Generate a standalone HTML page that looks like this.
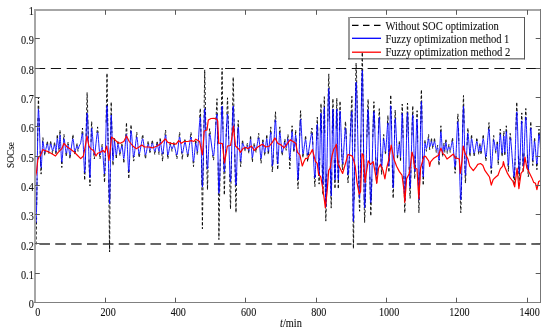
<!DOCTYPE html><html><head><meta charset="utf-8"><style>html,body{margin:0;padding:0;background:#fff;overflow:hidden}svg{display:block}</style></head><body><svg width="550" height="333" viewBox="0 0 550 333">
<rect width="550" height="333" fill="#fff"/>
<line x1="35.0" y1="68.5" x2="540.5" y2="68.5" stroke="#111" stroke-width="1.1" stroke-dasharray="10.2 5.64"/>
<line x1="35.0" y1="244" x2="540.5" y2="244" stroke="#333" stroke-width="1.3" stroke-dasharray="10.6 5.27" stroke-dashoffset="11.5"/>
<path d="M36.1,244.5 36.2,237.9 36.4,228.8 36.6,217.7M36.7,205.1 36.9,191.8 37.1,178.4M37.6,141.1 37.8,129 37.9,118M38.1,108.7 38.3,101.6 38.4,97.3 38.6,100.8 38.7,105.7 38.9,111.5M39.1,118.1 39.3,125 39.5,132M40.2,151.2 40.4,157.5 40.6,163.2M40.6,163.2 40.8,168.1 40.9,171.8 41.1,174.1 41.2,172.3 41.3,169.9 41.5,167M42.5,143.2 42.7,140.8 42.8,138.9 42.9,137.7 43,138.7 43.1,140 43.3,141.3M44.3,152.3 44.5,153.6 44.6,154.7 44.7,155.7 44.9,154.8 45,153.7 45.2,152.6 45.4,151.4M46.7,145.1 46.9,143.9 47.1,142.8 47.2,141.8 47.4,140.9 47.5,141.8 47.6,142.7 47.7,143.7 47.8,144.7M48.6,150.9 48.7,151.8 48.8,152.7 48.9,153.5 49,152.7 49.1,151.8 49.3,150.9M50.2,144.5 50.3,143.4 50.5,142.4 50.6,141.4 50.7,140.6 50.8,141.4 50.9,142.4 51.1,143.4 51.2,144.5M52.1,150.9 52.3,151.8 52.4,152.7 52.5,153.5 52.6,152.7 52.8,151.9 52.9,151 53.1,150.1M54,145.5 54.2,144.6 54.3,143.7 54.5,142.8 54.6,142 54.7,142.8 54.8,143.7 54.9,144.7 55,145.7M55.6,150.9 55.7,151.9 55.8,152.8 55.9,153.8 56,154.6 56.1,153.7 56.2,152.5 56.3,151.1M57,138.6 57.1,137.1 57.2,135.6 57.3,134.5 57.4,135.6 57.5,136.9 57.7,138.3 57.8,139.8M58.7,148.5 58.9,149.6 59,150.6 59.1,151.3 59.2,150.5 59.2,149.4 59.3,148.1M59.8,134.9 59.9,133.1 59.9,131.5 60,130.1 60.1,131.7 60.2,133.8 60.4,136.5M61.4,161 61.6,163.7 61.7,165.9 61.8,167.5 61.9,166 62.1,163.9 62.2,161.5M63.6,139.9 63.7,137.6 63.9,135.8 64,134.5 64.1,135.7 64.3,137.2 64.5,138.9M65.8,152.8 66,154.4 66.2,155.7 66.3,156.7 66.4,155.8 66.5,154.7 66.7,153.6 66.8,152.4M67.7,144.9 67.9,143.8 68,142.8 68.1,142 68.2,142.9 68.3,143.9 68.5,145.1M69.5,155.3 69.7,156.7 69.8,157.9 69.9,158.9 70.1,157.8 70.3,156.3 70.5,154.6M72.4,139.1 72.6,137.3 72.8,135.7 73,134.5 73.1,135.6 73.2,137.1 73.4,138.6M74.4,151.1 74.6,152.5 74.7,153.7 74.8,154.6 74.9,153.8 75.1,152.9 75.3,152 75.4,151M76.5,146.4 76.6,145.5 76.8,144.7 77,143.8 77.1,143.1 77.2,143.8 77.2,144.5 77.3,145.2 77.3,145.9M77.8,148.7 77.8,149.4 77.9,150 77.9,150.7 78,151.3 78.1,150.7 78.3,149.9 78.4,149.2 78.6,148.4M81.9,134.3 82,132.6 82.2,130.9 82.4,129.4 82.5,128 82.6,129.8 82.8,132.5 82.9,136M84.3,171 84.4,174.8 84.6,178 84.7,180.3 84.8,177.7 85,173.7 85.2,168.6 85.4,162.6 85.5,156.1M86.1,136.3 86.3,128.5 86.4,120.3M86.4,120.3 86.6,112.3 86.8,104.8 87,98.1 87.1,92.5 87.3,98.1 87.5,105 87.7,112.9 87.9,121.3M87.9,121.3 88.1,129.9 88.3,138.2M89,159.6 89.2,166.7 89.4,173.2 89.6,178.8 89.8,183.2 90,186 90.1,183.4 90.2,179.6 90.3,174.9M91,141.9 91.2,136.4 91.3,131.4M91.3,131.4 91.4,127.1 91.5,123.7 91.6,121.5 91.8,123.4 91.9,125.8 92.1,128.7M93.8,153.3 94,155.7 94.1,157.6 94.3,158.9 94.5,157.7 94.7,156 95,153.8M96.9,133 97.2,130.6 97.4,128.5 97.6,126.9 97.7,128.5 97.9,130.6 98.1,133M99.5,153.8 99.7,156 99.9,157.7 100,158.9 100.1,157.9 100.3,156.8 100.4,155.5 100.6,154.3M101.8,146.9 101.9,145.9 102.1,145 102.2,144.3 102.3,145.3 102.5,147M104,174 104.2,177.3 104.4,180.2 104.5,182.5 104.7,179.6 104.8,175 105,169.2 105.2,162.3 105.4,154.9M106.1,122.6 106.3,112.1 106.5,101.4 106.7,91.2 106.8,81.6 107,73.2 107.2,82.1 107.3,92.8 107.5,105 107.7,118M107.7,118 107.9,131.2 108.1,143.9M108.7,179.7 108.9,194.9 109.1,210.4 109.3,225.5 109.4,239.5 109.6,252 109.7,239.7 109.8,226 109.9,211.5 110,196.8M110,196.8 110.2,182.4 110.3,169.3M110.6,139.6 110.8,129.7 110.9,120.5M110.9,120.5 111,112.6 111.1,106.3 111.2,102 111.3,105.6 111.4,110.2 111.6,115.4M111.7,121.2 111.8,127 112,132.8M112.4,147.7 112.5,152.6 112.6,157M112.8,160.8 112.9,163.7 113,165.5 113.1,164.1 113.2,162.3 113.3,160.2M114.2,142.3 114.3,140.4 114.4,138.8 114.5,137.7 114.6,138.8 114.7,140.1 114.9,141.7M115.9,154.9 116.1,156.5 116.2,157.8 116.3,158.9 116.4,157.9 116.5,156.6 116.6,155.2M117.7,144.2 117.8,143 117.9,141.8 118,140.9 118.1,141.8 118.2,142.8 118.4,143.9M119.5,152.6 119.7,153.7 119.8,154.8 119.9,155.7 120,154.8 120.2,153.8 120.3,152.8 120.5,151.8M121.4,146.6 121.6,145.6 121.7,144.7 121.9,143.9 122,143.1 122.1,143.9 122.2,145.1 122.4,146.4M123.4,158.9 123.6,160.5 123.7,162 123.8,163.2 124,161.8 124.1,159.9 124.3,157.5M125.8,136.6 126,132.8 126.2,129.1 126.3,125.6 126.5,122.5 126.6,125.8 126.8,129.8 127,134.3M128.3,170 128.5,173.6 128.7,176.6 128.8,178.8 128.9,176.6 129.1,173.4 129.2,169.5M130.6,133.3 130.7,129.6 130.9,126.7 131,124.7 131.2,126.5 131.3,128.8 131.5,131.5M133.2,155.3 133.4,157.8 133.5,159.7 133.7,161.1 133.9,159.8 134.1,158.1 134.3,156.1M136.2,137.6 136.4,135.4 136.6,133.7 136.8,132.3 136.9,133.6 137.1,135.3 137.3,137.2M138.6,153.4 138.8,155.1 139,156.6 139.1,157.7 139.3,156.6 139.6,155.2 139.8,153.6M142,138.9 142.2,137.2 142.5,135.7 142.7,134.5 142.9,135.7 143.1,137.3 143.3,139.1M144.9,154.6 145.1,156.3 145.3,157.8 145.5,158.9 145.7,157.9 145.8,156.6 146,155.2 146.2,153.7M147.7,144.2 147.9,143 148,141.8 148.2,140.9 148.3,141.8 148.4,142.7 148.6,143.7 148.7,144.7M149.5,149.9 149.6,150.9 149.8,151.8 149.9,152.7 150,153.5 150.1,152.7 150.3,151.8 150.5,150.8M151.7,144 151.8,142.8 152,141.8 152.2,140.8 152.3,139.9 152.5,140.8 152.6,141.8 152.8,143 153,144.1M154.3,151.6 154.5,152.7 154.6,153.7 154.8,154.6 154.9,153.7 155.1,152.8 155.3,151.8 155.5,150.7M156.5,144.9 156.7,143.8 156.9,142.8 157.1,141.8 157.2,140.9 157.3,141.8 157.4,142.8 157.6,143.8 157.7,144.9M158.6,151.8 158.8,152.8 158.9,153.7 159,154.6 159.1,153.7 159.2,152.6 159.2,151.4M160,141.2 160,139.9 160.1,138.7 160.2,137.7 160.3,138.8 160.5,140.1 160.7,141.5M161.9,153.2 162,155.3 162.2,157.4 162.4,159.4 162.5,161.2 162.7,159.3 162.9,157.1 163.1,154.6 163.3,151.9M165,135.5 165.2,133.4 165.4,131.6 165.6,130.1 165.7,131.6 165.9,133.4 166.1,135.6M167.4,154.1 167.6,156.1 167.8,157.7 167.9,158.9 168,157.9 168.2,156.7 168.4,155.3 168.6,153.9M169.8,145.1 170,143.9 170.2,142.9 170.3,142 170.4,142.8 170.5,143.6 170.6,144.4 170.8,145.1M171.5,148.6 171.7,149.3 171.8,150 171.9,150.7 172,151.3 172.1,150.7 172.2,150 172.4,149.3 172.5,148.6M173.4,145.1 173.5,144.4 173.7,143.6 173.8,142.8 173.9,142 174.1,142.9 174.3,143.9 174.5,145.1M176.1,153.9 176.3,155.3 176.5,156.7 176.7,157.9 176.9,158.9 177.1,157.7 177.2,156.2 177.4,154.4M179.1,137.3 179.3,135.3 179.4,133.6 179.6,132.3 179.8,133.6 179.9,135.2 180.1,137.1M181.6,151.4 181.8,153.6 182,155.8 182.1,157.7 182.3,159.4 182.5,157.8 182.6,156.1 182.8,154.3 183,152.4M184.5,142.3 184.7,141 184.8,139.8 185,138.8 185.2,139.8 185.3,141 185.5,142.4M187.2,154.1 187.4,155.5 187.5,156.8 187.7,157.8 187.9,156.7 188.1,155.3 188.4,153.5M190.3,137.2 190.6,135.3 190.8,133.6 191,132.3 191.2,133.7 191.3,135.7 191.5,138.1M193,160.5 193.2,163 193.3,165 193.5,166.6 193.6,165.1 193.8,163.3 194,161.2M195.3,144.1 195.5,142.4 195.7,140.9 195.8,139.9 195.9,140.8 196,141.8 196.1,143M197,151.6 197.1,152.7 197.2,153.7 197.3,154.6 197.5,153.4 197.7,151.3M199.7,117.8 199.9,114 200.1,110.8 200.3,108.3 200.4,111.3 200.6,116 200.7,122 200.9,129 201,136.6M201.5,159.9 201.7,170.5 201.8,182.3M201.8,182.3 202,194.6 202.1,206.7 202.3,218.2 202.4,228.8 202.5,218.1 202.7,206.2 202.9,193.6 203,180.7M203,180.7 203.2,168.1 203.4,156.6M203.9,127.8 204.1,115.6 204.2,103.2 204.4,91.1 204.6,79.9 204.7,69.9 204.9,79.6 205.1,90.1 205.3,101.1 205.5,112M205.5,112 205.7,122.6 205.9,132M206.3,145.4 206.5,153.3 206.7,161.6M206.7,161.6 206.9,169.7 207.1,177.3 207.3,184.1 207.5,189.7 207.6,184.5 207.8,178.7 207.9,172.7 208.1,166.6M209.2,136.1 209.3,133 209.5,130.4 209.6,128.7 209.8,130.2 210.1,132.2 210.4,134.6M212.7,155 213,157.1 213.3,158.8 213.5,160.1 213.7,158.6 214,156M215.8,124.8 216,119 216.3,113.2 216.5,107.7 216.8,102.8 217,98.7 217.1,103.4 217.2,109.8 217.4,117.6M217.5,126.3 217.7,135.7 217.8,145.1M218.1,162.6 218.2,174.5 218.4,187.8 218.5,201.5 218.7,215 218.8,227.9 218.9,239.6 219.1,227.8 219.3,214.6 219.5,200.5 219.8,186.2M219.8,186.2 220,172.2 220.3,159.4M221.2,114.9 221.5,101.9 221.7,89.5 221.9,78 222.1,68.1 222.2,77.7 222.4,88.3 222.5,99.4 222.7,110.7 222.9,121.7 223,131.6M223.4,146.3 223.5,154.9 223.7,164 223.9,172.9 224,181.3 224.2,188.8 224.3,195 224.5,188.9 224.7,181.8 224.9,173.9 225.2,165.6M226.1,136.7 226.4,129.4 226.6,121.9M226.9,114.7 227.1,108.1 227.3,102.3 227.5,97.8 227.7,102.5 227.9,108.6 228.1,115.8M228.1,115.8 228.3,123.8 228.5,132.2 228.8,140.4M229.7,174.2 229.9,184 230.1,193.3 230.3,201.8 230.5,209 230.7,201.6 230.8,192.9 231,183.1 231.2,172.7 231.4,162.1 231.6,152.1M232.1,135.5 232.3,125.3 232.5,114.6 232.7,104 232.9,93.9 233,84.8 233.2,77.1 233.4,84.9 233.6,94.1 233.8,104.4 234,115.3 234.2,126.4 234.4,136.9M234.8,154.3 235,164.7 235.2,175.5 235.4,186.2 235.6,196.3 235.8,205.2 236,212.6 236.1,205.5 236.3,197.4 236.4,188.7 236.6,179.7 236.8,170.8M237.4,143.4 237.6,137.1 237.8,131.4M237.8,131.4 237.9,126.6 238.1,122.8 238.2,120.4 238.4,122.4 238.5,125.2 238.7,128.6M240.2,159.3 240.4,162.4 240.5,164.9 240.7,166.6 240.8,165.1 240.9,163.3 241.1,161.2M242.1,144.1 242.3,142.4 242.4,140.9 242.5,139.9 242.7,140.7 242.8,141.7 243,142.6 243.2,143.6M244.5,148.2 244.7,149.1 244.9,149.9 245,150.7 245.2,151.3 245.3,150.7 245.5,150 245.6,149.4 245.8,148.7M246.8,145.9 247,145.2 247.1,144.5 247.3,143.8 247.4,143.1 247.5,143.8 247.6,144.6 247.7,145.4 247.8,146.3M248.4,150.3 248.5,151.1 248.6,151.9 248.7,152.7 248.8,153.5 248.9,152.7 249,151.6 249.2,150.4M250.2,139.4 250.4,138 250.5,136.6 250.6,135.5 250.7,136.8 250.8,138.4 251,140.2M252,157.3 252.2,159.2 252.3,160.9 252.4,162.1 252.5,161 252.6,159.6 252.8,158M253.8,146.3 254,145 254.1,143.9 254.2,143.1 254.3,143.8 254.4,144.6 254.6,145.3 254.7,146.1M255.5,149.5 255.6,150.2 255.8,151 255.9,151.7 256,152.4 256.2,151.6 256.3,150.5 256.5,149.3M258,139.2 258.2,137.6 258.4,136 258.5,134.6 258.7,133.4 258.8,134.7 259,136.5 259.2,138.6M260.6,157.9 260.8,160.1 261,161.9 261.1,163.2 261.2,161.9 261.3,160.3 261.5,158.4M262.5,142.9 262.7,141.3 262.8,139.8 262.9,138.8 263,139.8 263.1,140.9 263.3,142.2M264.3,152.4 264.5,153.6 264.6,154.7 264.7,155.7 264.8,154.7 265,153.4 265.1,152M266.4,138.7 266.5,137.1 266.7,135.6 266.8,134.5 266.9,135.6 267,137.1 267.1,138.6M268,151.1 268.1,152.5 268.2,153.7 268.3,154.6 268.5,153.6 268.6,152.1 268.8,150.4M270.3,132.6 270.5,130.4 270.6,128.5 270.8,126.9 270.9,128.7 271,131.2 271.1,134.3M272,164.3 272.1,167.5 272.2,170.1 272.3,172 272.5,169.9 272.7,166.8 272.9,162.8M272.9,162.8 273.2,158.1 273.4,153.1M274.9,122.3 275.1,117.9 275.3,114.3 275.5,111.8 275.6,114.3 275.8,117.8 275.9,122M276.9,151.7 277.1,156.5 277.3,161M277.3,161 277.4,164.8 277.6,167.8 277.7,169.7 277.8,167.9 278,165.5 278.1,162.4M279.4,134.1 279.5,131.1 279.7,128.6 279.8,126.9 279.9,128.5 280.1,130.4 280.3,132.7M281.7,151.2 281.9,153.1 282.1,154.6 282.2,155.7 282.4,154.7 282.5,153.6 282.7,152.4M284.2,143.6 284.4,142.2 284.6,140.9 284.7,139.8 284.9,138.8 285,139.7 285.1,140.7 285.2,141.7 285.3,142.7M285.9,148.1 286,148.9 286.1,149.7 286.2,150.3 286.3,149.6 286.4,148.7 286.6,147.7M287.5,139.6 287.6,138.2 287.8,136.9 287.9,135.6 288,134.5 288.1,135.7 288.2,137.4 288.4,139.5M289.3,157 289.4,160.2 289.6,163.4 289.7,166.3 289.8,169 289.9,166.2 290.1,163 290.3,159.4 290.4,155.5M291.6,132.6 291.8,129.8 292,127.5 292.1,125.8 292.2,127.4 292.3,129.3 292.5,131.5M293.5,148.5 293.7,150.2 293.8,151.5 293.9,152.4 294,151.6 294.1,150.4 294.3,149M295.3,135 295.5,133.1 295.6,131.5 295.7,130.1 295.8,131.9 296,134.8M296.2,138.5 296.3,142.9 296.5,147.7M297.5,177.9 297.7,182.3 297.9,186 298,188.7 298.2,185.8 298.3,181.4 298.5,176M298.5,176 298.7,169.7 298.9,162.9M299.7,135.9 299.9,129.2 300.1,123M300.1,123 300.3,117.7 300.4,113.5 300.6,110.7 300.7,113.1 300.9,116.3 301.1,120M302.6,154.3 302.8,156.5 302.9,157.8 303.1,156.8 303.2,155.4 303.4,153.8M305.1,139.8 305.3,138.2 305.4,136.7 305.6,135.5 305.7,136.7 305.9,138.2 306,139.9M307.1,153.5 307.2,155.8 307.3,158 307.5,160 307.6,161.8 307.9,159.9 308.2,157.6 308.5,155 308.8,152.2M311,133.9 311.3,131.5 311.6,129.5 311.9,128 312.1,129.9 312.3,132.8 312.5,136.6M312.5,136.6 312.7,141 312.9,145.9M314.3,176 314.5,180.3 314.7,183.9 314.9,186.5 315,183.8 315.2,179.8 315.4,174.9M316.5,139.4 316.6,133.4 316.8,128M316.8,128 317,123.3 317.2,119.6 317.3,117.2 317.4,119.6 317.5,123.2 317.7,127.8M317.7,127.8 317.8,133 317.9,138.8M318.7,173 318.9,177.7 319,181.5 319.1,184.1 319.2,181.3 319.3,177.1 319.5,171.6 319.6,165.3 319.8,158.4M320.3,130.5 320.5,123.4 320.6,116.8M320.6,116.8 320.8,111.1 320.9,106.6 321,103.5 321.1,106.7 321.2,111.6 321.4,117.9 321.5,125.2 321.7,133.1M322.2,164.9 322.4,172.9 322.5,180.3M322.5,180.3 322.7,186.6 322.8,191.6 322.9,194.9 323,191.5 323.1,186.3 323.2,179.6 323.3,171.8 323.4,163.3M323.8,129 323.9,120.4 324,112.4M324,112.4 324.1,105.6 324.2,100.2 324.3,96.7 324.4,100.5 324.5,106.8 324.6,115M324.6,115 324.7,124.7 324.8,135.3M325.3,179.1 325.4,190.2 325.5,200.5M325.5,200.5 325.6,209.3 325.7,216.4 325.8,221.1 326,216.1 326.2,208.3 326.4,198.2 326.6,186.5 326.8,173.6M327.8,121.5 328,108.6 328.2,96.8 328.4,86.7 328.6,78.9 328.8,73.9 328.9,78.7 329.1,86.1 329.3,95.5 329.5,106.5 329.6,118.3M330.4,165.7 330.5,177.3 330.7,187.9 330.9,196.9 331.1,203.8 331.2,208.1 331.3,204.1 331.4,198 331.5,190.3M331.5,190.3 331.7,181.4 331.8,171.8M332.3,133.4 332.4,124 332.6,115.4 332.7,108 332.8,102.3 332.9,98.7 333,102.1 333.2,107.1 333.3,113.5M333.3,113.5 333.5,120.8 333.6,128.7M334.3,160 334.4,167.7 334.6,174.8 334.7,180.9 334.9,185.6 335,188.7 335.1,185.6 335.2,180.9 335.4,174.8 335.5,167.7 335.6,160M336.2,128.6 336.3,120.7 336.4,113.3M336.4,113.3 336.6,106.8 336.7,101.7 336.8,98.2 336.9,101.7 337,106.8 337.1,113.3M337.1,113.3 337.2,120.7 337.3,128.7M337.8,160.1 337.9,167.9 338,175 338.1,181.1 338.2,185.8 338.3,188.9 338.4,185.9 338.5,181.2 338.6,175.2 338.8,168.3 338.9,160.7M339.4,130.2 339.5,122.5 339.7,115.4M339.7,115.4 339.8,109.2 339.9,104.4 340,101.1 340.2,104.1 340.3,108.4 340.5,113.5M341.6,149.1 341.8,154.8 342,159.9M342.2,164.3 342.3,167.6 342.5,169.7 342.7,167.9 342.9,165.2 343.1,161.9M344.9,129.8 345.1,126.3 345.3,123.5 345.5,121.5 345.7,123.7 345.8,126.9 346,131.1M346,131.1 346.2,135.9 346.4,141.1M347.5,172.4 347.7,176.9 347.8,180.4 348,182.9 348.2,180.2 348.5,175.9 348.8,170.5 349.1,164.2 349.4,157.2M350.3,136.3 350.5,128.6 350.8,120.7 351.1,113.2M351.1,113.2 351.4,106.4 351.7,100.7 351.9,96.3 352,101.4 352.1,109 352.2,118.7 352.3,130 352.4,142.1M352.8,178.5 352.9,192 353,205.7 353.1,218.8M353.1,218.8 353.2,230.7 353.3,240.8 353.4,248.6 353.6,240.4 353.7,229.1 353.9,215.3M354.1,199.8 354.3,183.4 354.5,166.9M354.7,151.8 355,136.7 355.2,120.9M355.2,120.9 355.4,105.5 355.6,91.3 355.8,79.1 355.9,69.4 356.1,63.1 356.3,69.1 356.6,77.8 356.8,88.6 357.1,100.9 357.3,114.2 357.6,127.7M358.4,165.8 358.6,178.3 358.9,189.6M358.9,189.6 359.1,199.3 359.4,206.6 359.6,211.2 359.8,206.5 359.9,198.6M360.1,188.2 360.3,175.9 360.5,162.4M360.5,162.4 360.7,148.2 361,134.4M361.4,106 361.6,91.8 361.8,78.6 362,67.2 362.1,58.3 362.3,52.3 362.4,58.4 362.6,67.8 362.8,79.7 362.9,93.6 363.1,108.8M363.1,108.8 363.3,124.3 363.4,139.2M363.4,139.2 363.6,154 363.8,169.2M363.8,169.2 364,183.9 364.1,197.2M364.1,197.2 364.3,208.5 364.5,217.2 364.6,222.5 364.8,217.8 365.1,210.7 365.3,201.9M365.3,201.9 365.6,191.7 365.8,180.7M366.9,137.3 367.1,126.9 367.4,117.4M367.4,117.4 367.6,109.3 367.9,103.2 368.1,99.4 368.3,103.1 368.4,109 368.6,116.7M368.6,116.7 368.8,125.8 369,135.8M369.9,176.7 370.1,187.1 370.3,196.7M370.3,196.7 370.5,205 370.6,211.6 370.8,216 371,211.6 371.2,205.1 371.4,196.9M371.4,196.9 371.6,187.5 371.9,177.3M372.8,137.1 373.1,127.4 373.3,118.5M373.3,118.5 373.5,111 373.7,105.3 373.9,101.7 374.1,104.9 374.2,109.5 374.4,115.3M374.4,115.3 374.6,122 374.8,129.2M375.7,157.4 375.9,164.3 376.1,170.7 376.3,176.1 376.4,180.4 376.6,183.1 376.8,180.5 376.9,176.5 377.1,171.4M377.1,171.4 377.3,165.5 377.5,159.1M378.4,133.4 378.6,126.9 378.8,120.9M378.8,120.9 379,115.6 379.1,111.5 379.3,108.7 379.4,111.4 379.6,115.2 379.8,120M380.8,153.8 381,159.4 381.1,164.5M381.1,164.5 381.3,168.9 381.5,172.3 381.6,174.5 381.7,172.6 381.9,170 382,167M383.3,140.6 383.4,138 383.6,135.9 383.7,134.5 383.8,135.6 383.9,137.1 384.1,138.6M385.1,151.1 385.3,152.5 385.4,153.7 385.5,154.6 385.6,153.4 385.8,151.6M387.4,123.5 387.6,120.3 387.8,117.6 387.9,115.5 388,117.8 388,121.2 388.1,125.3M388.7,163.4 388.8,167.3 388.8,170.3 388.9,172.3 389,170.1 389.1,166.3M389.3,161.4 389.4,155.6 389.5,149.2M390.3,108.8 390.5,103 390.6,98.2 390.7,94.9 390.9,98.6 391,104.2 391.2,111.3 391.4,119.6 391.6,128.7M392.3,164.9 392.5,173.9 392.7,182.1 392.9,189.2 393,194.7 393.2,198.3 393.3,194.9 393.5,189.9 393.6,183.6M393.6,183.6 393.7,176.4 393.9,168.6M394.5,137.9 394.7,130.4 394.8,123.5 394.9,117.6 395.1,113 395.2,110.1 395.3,112.6 395.5,115.8 395.7,119.6M397.2,155.2 397.4,157.5 397.5,158.9 397.6,157.9 397.7,156.6 397.9,155.2M399,144.2 399.2,143 399.3,141.8 399.4,140.9 399.5,141.9 399.5,143.1 399.6,144.5M400.3,157.3 400.4,158.9 400.4,160.4 400.5,161.5 400.6,159.9 400.7,157.2M401.9,115.1 402,110.6 402.1,106.9 402.2,104.1 402.4,107.5 402.5,113 402.7,120.1M402.7,120.1 402.9,128.6 403.1,137.8M403.9,176 404.1,185.7 404.3,194.7M404.3,194.7 404.5,202.5 404.6,208.7 404.8,212.9 405,208.7 405.1,202.4 405.3,194.6M405.3,194.6 405.5,185.5 405.7,175.8M406.6,137.3 406.8,127.9 407,119.4M407,119.4 407.2,112.1 407.3,106.6 407.5,103.1 407.7,106.4 407.8,111.5 408,117.9 408.2,125.5 408.4,133.7M409.2,166.9 409.4,175.2 409.6,182.9M409.6,182.9 409.8,189.5 409.9,194.8 410.1,198.3 410.3,194.8 410.4,189.7 410.6,183.2M410.6,183.2 410.8,175.7 411,167.5M411.9,135.3 412.1,127.3 412.3,120.1 412.5,113.8 412.6,108.9 412.8,105.8 412.9,108.7 413,112.9 413.2,118.1M414,155.7 414.2,162 414.3,167.6 414.5,172.5 414.6,176.3 414.7,178.8 414.8,176.4 415,172.8 415.2,168.1M415.2,168.1 415.4,162.8 415.5,156.9M416.6,122.1 416.8,117.2 417,113.4 417.1,110.7 417.2,113.8 417.3,118.8M417.5,125.4 417.6,133.2 417.7,141.8M418.3,177.4 418.4,186.6 418.5,195.1M418.5,195.1 418.7,202.6 418.8,208.5 418.9,212.7 419.1,208.3 419.2,201.6 419.4,193.1 419.6,183.1 419.8,172.3M420.5,129.1 420.7,118.4 420.9,108.6 421.1,100.3 421.2,93.8 421.4,89.7 421.5,93.5 421.6,99 421.8,105.9M421.8,105.9 421.9,113.9 422,122.4M422.6,155.8 422.7,163.9 422.8,171.2M422.8,171.2 423,177.5 423.1,182.3 423.2,185.3 423.3,182.9 423.4,179.8 423.6,176.2M424.8,143.2 424.9,141.1 425,139.9 425.1,140.7 425.2,141.7 425.3,142.6 425.4,143.6M426.1,149.1 426.2,149.9 426.3,150.7 426.4,151.3 426.5,150.6 426.7,149.6 426.8,148.5M428,139.8 428.2,138.3 428.3,136.9 428.5,135.6 428.6,134.5 428.7,135.6 428.7,136.8 428.8,138.1 428.9,139.5M429.5,147.1 429.6,148.1 429.6,149 429.7,149.7 429.8,149 429.9,148.2 430.1,147.4M431,141.8 431.1,140.7 431.3,139.7 431.4,138.6 431.5,137.7 431.6,138.6 431.7,139.6 431.7,140.6 431.8,141.6M432.4,145.7 432.5,146.6 432.5,147.4 432.6,148.2 432.7,148.9 432.8,148.2 432.9,147.4 433.1,146.6 433.2,145.7M434,141.6 434.1,140.6 434.3,139.6 434.4,138.6 434.5,137.7 434.6,138.7 434.7,139.8 434.9,141 435,142.3M435.9,149.7 436.1,150.7 436.2,151.7 436.3,152.4 436.4,151.7 436.5,151.1 436.6,150.5 436.7,149.9M437.2,147.6 437.3,147 437.4,146.5 437.5,145.9 437.6,145.3 437.7,146 437.8,147.1 437.9,148.3M438.7,160.9 438.8,162.6 438.9,164.2 439,165.5 439.1,163.9 439.2,161.7 439.4,159M440.5,132.8 440.7,129.9 440.8,127.6 440.9,125.8 441,127.5 441.1,129.5 441.2,132M442.3,152 442.4,154 442.5,155.6 442.6,156.7 442.7,155.8 442.8,154.8 442.9,153.7 443,152.6M443.7,145.8 443.8,144.8 443.9,143.9 444,143.1 444,143.8 444.1,144.6 444.2,145.3 444.2,146.1M444.6,149.5 444.6,150.2 444.7,151 444.8,151.7 444.8,152.4 444.9,151.7 444.9,150.8 445,149.8M445.6,143 445.7,141.9 445.8,140.8 445.8,139.7 445.9,138.8 446,139.7 446.1,140.8 446.2,142M447,150.7 447.1,151.7 447.2,152.7 447.3,153.5 447.4,152.8 447.5,152 447.6,151.2 447.7,150.5M448.5,147.1 448.6,146.4 448.7,145.7 448.8,145 448.9,144.3 449,145 449.1,145.6 449.2,146.3 449.3,146.9M449.8,149.7 449.9,150.4 450,151 450.1,151.7 450.2,152.4 450.3,151.7 450.5,150.7 450.7,149.7M451.9,142.3 452,141 452.2,139.8 452.4,138.7 452.5,137.7 452.7,138.9 452.8,140.8 453,143.1M454.6,166.4 454.8,169.1 454.9,171.5 455.1,173.3 455.3,171.2 455.5,168 455.7,164M455.7,164 455.9,159.4 456.1,154.4M457.3,124.1 457.5,119.8 457.7,116.4 457.9,113.9 458.1,116.9 458.3,121.7M458.5,128 458.7,135.5 458.9,143.7M460.2,195.5 460.4,202.7 460.6,208.6 460.8,212.7 461,208.4 461.1,201.9 461.3,193.6 461.5,184.1 461.7,173.7M462.6,132.5 462.8,122.4 463,113.2 463.2,105.4 463.3,99.3 463.5,95.5 463.6,98.9 463.7,104 463.9,110.3M463.9,110.3 464,117.6 464.2,125.4M464.7,155.9 464.9,163.3 465,170.1M465,170.1 465.2,175.9 465.3,180.3 465.4,183.1 465.6,180.7 465.7,177.4 465.9,173.3M467,145.1 467.2,140.5 467.4,136.3M467.4,136.3 467.6,132.7 467.7,129.8 467.9,128 468,129.5 468.2,131.4 468.3,133.7M469.6,152.2 469.7,154.1 469.9,155.6 470,156.7 470.1,155.7 470.2,154.4 470.3,152.8M471.2,138.9 471.3,137.2 471.4,135.7 471.5,134.5 471.7,135.7 471.8,137.2 472,138.9M473.7,152.8 473.9,154.4 474,155.7 474.2,156.7 474.4,155.8 474.5,154.5 474.7,153.2M476.4,141.4 476.6,140 476.7,138.7 476.9,137.7 477,138.7 477.1,139.9 477.3,141.2M478.3,151.4 478.5,152.6 478.6,153.7 478.7,154.6 478.8,153.8 478.9,152.9 479,152 479.1,151M479.6,146.4 479.7,145.5 479.8,144.7 479.9,143.8 480,143.1 480.1,143.8 480.1,144.7 480.2,145.5 480.3,146.4M480.7,151 480.8,152 480.9,152.9 480.9,153.8 481,154.6 481.1,153.7 481.3,152.5 481.4,151.1M482.8,138.6 482.9,137.1 483.1,135.6 483.2,134.5 483.4,135.7 483.5,137.3 483.7,139.3M485.4,156.3 485.6,158.2 485.7,159.8 485.9,161.1 486.1,159.7 486.3,157.7 486.5,155.1M488.4,129.8 488.6,126.9 488.8,124.4 489,122.6 489.1,124.6 489.3,127.5 489.5,131.1M490.8,165.8 491,169.5 491.2,172.4 491.3,174.5 491.4,172.6 491.6,170.1 491.8,167.1M493.2,141.5 493.4,138.9 493.6,136.9 493.7,135.5 493.8,136.6 494,138 494.1,139.4M495.4,150.4 495.5,151.6 495.7,152.7 495.8,153.5 495.9,152.7 496,151.8 496.1,150.9M496.9,144.7 497,143.7 497.1,142.7 497.2,141.8 497.3,140.9 497.4,141.9 497.4,143.2 497.5,144.8M498,160 498.1,161.9 498.1,163.6 498.2,164.9 498.3,163.4 498.5,161.3 498.6,158.8M499.9,135.3 500,132.8 500.2,130.6 500.3,129.1 500.4,130.5 500.5,132.4 500.7,134.5M501.7,152.3 501.9,154.1 502,155.7 502.1,156.7 502.2,155.7 502.3,154.2 502.5,152.5M503.5,136.3 503.7,134.3 503.8,132.6 503.9,131.2 504,132.6 504,134.2 504.1,136.2M504.6,151.7 504.7,153.3 504.7,154.7 504.8,155.7 504.9,154.6 505,153 505.1,151.1M506,131.9 506.1,129.5 506.2,127.4 506.3,125.8 506.4,127.6 506.6,130.2 506.7,133.4M508,163.6 508.1,166.8 508.3,169.4 508.4,171.3 508.5,169.5 508.6,167.1 508.8,164.3M509.8,139.4 510,136.9 510.1,134.8 510.2,133.4 510.4,135 510.7,137.5 511,140.8M513.4,175.5 513.7,179.5 514,182.8 514.2,185.3 514.4,182.5 514.5,178.1 514.7,172.4 514.9,165.9 515.1,158.8M515.9,129.9 516.1,122.6 516.3,115.8M516.3,115.8 516.5,109.9 516.6,105.2 516.8,102.1 516.9,105.2 517.1,109.7 517.3,115.4M518.4,156.2 518.5,162.9 518.7,169 518.9,174.3 519.1,178.4 519.2,181 519.4,178.5 519.5,174.8 519.7,170.1M519.7,170.1 519.9,164.6 520.1,158.8M521.3,124 521.5,119.2 521.6,115.4 521.8,112.9 521.9,115.3 522,118.8 522.1,123.2M522.7,153.5 522.8,158.6 522.9,163.2M522.9,163.2 523,167.1 523.1,170.3 523.2,172.3 523.4,170.2 523.5,166.9 523.7,162.7 523.9,157.8 524.1,152.5M525.3,119.7 525.5,115 525.6,111.2 525.8,108.5 526,111.3 526.1,115.2 526.3,120.1M527.4,155.1 527.6,160.9 527.8,166.2M527.8,166.2 528,170.8 528.1,174.3 528.3,176.7 528.5,174.5 528.6,171.4 528.8,167.5M530.3,130.5 530.5,126.7 530.6,123.6 530.8,121.5 530.9,123.5 531.1,126.1 531.2,129.4M532.4,158.6 532.5,161.5 532.7,163.9 532.8,165.5 532.9,164.1 533,162.3 533.2,160.2M534.2,142.3 534.4,140.4 534.5,138.8 534.6,137.7 534.7,138.9 534.9,140.6 535.1,142.7M536.4,163.5 536.6,166 536.8,168.1 536.9,169.7 537,168 537.2,165.6 537.3,162.7M538.6,135.8 538.7,133 538.9,130.7 539,129.1 539.1,130.4 539.2,132 539.3,133.7 539.4,135.5M540.3,145.7 540.4,147 540.5,148.1 540.6,148.9" fill="none" stroke="#000" stroke-width="0.9" stroke-dasharray="3 2" stroke-linejoin="round"/>
<path d="M36.1 223C36.7 223 37.8 109 38.4 109C39.2 109 40.3 167.7 41.1 167.7C41.6 167.7 42.4 141.5 42.9 141.5C43.4 141.5 44.2 152.3 44.7 152.3C45.5 152.3 46.6 144.2 47.4 144.2C47.8 144.2 48.5 150.5 48.9 150.5C49.4 150.5 50.2 143.9 50.7 143.9C51.2 143.9 52 150.5 52.5 150.5C53.1 150.5 54 145.1 54.6 145.1C55 145.1 55.6 151.4 56 151.4C56.4 151.4 56.9 138.8 57.3 138.8C57.8 138.8 58.6 148.7 59.1 148.7C59.4 148.7 59.7 135.2 60 135.2C60.5 135.2 61.3 162.2 61.8 162.2C62.4 162.2 63.4 138.8 64 138.8C64.6 138.8 65.7 153.2 66.3 153.2C66.8 153.2 67.6 145.1 68.1 145.1C68.6 145.1 69.4 155 69.9 155C70.8 155 72.1 138.8 73 138.8C73.5 138.8 74.3 151.4 74.8 151.4C75.4 151.4 76.5 146 77.1 146C77.4 146 77.7 148.7 78 148.7C78.6 148.7 79.6 144.2 80.2 144.2C80.8 144.2 81.9 133.4 82.5 133.4C83.1 133.4 84.1 172.8 84.7 172.8C85.4 172.8 86.4 113 87.1 113C87.9 113 89.2 177.6 90 177.6C90.4 177.6 91.2 128 91.6 128C92.4 128 93.5 155 94.3 155C95.2 155 96.7 132.5 97.6 132.5C98.3 132.5 99.3 155 100 155C100.6 155 101.6 147 102.2 147C102.8 147 103.9 174 104.5 174C105.2 174 106.3 105.7 107 105.7C107.7 105.7 108.9 203.7 109.6 203.7C110 203.7 110.8 115 111.2 115C111.7 115 112.5 160.5 113 160.5C113.4 160.5 114.1 141.5 114.5 141.5C115 141.5 115.8 155 116.3 155C116.8 155 117.5 144.2 118 144.2C118.5 144.2 119.4 152.3 119.9 152.3C120.5 152.3 121.4 146 122 146C122.5 146 123.3 158.6 123.8 158.6C124.6 158.6 125.7 134.5 126.5 134.5C127.1 134.5 128.2 171.6 128.8 171.6C129.4 171.6 130.4 130.7 131 130.7C131.8 130.7 132.9 156.8 133.7 156.8C134.6 156.8 135.9 137 136.8 137C137.4 137 138.5 154 139.1 154C140.1 154 141.7 138.8 142.7 138.8C143.5 138.8 144.7 155 145.5 155C146.3 155 147.4 144.2 148.2 144.2C148.7 144.2 149.5 150.5 150 150.5C150.6 150.5 151.7 143.3 152.3 143.3C153 143.3 154.1 151.4 154.8 151.4C155.5 151.4 156.5 144.2 157.2 144.2C157.7 144.2 158.5 151.4 159 151.4C159.3 151.4 159.9 141.5 160.2 141.5C160.8 141.5 161.9 154.1 162.5 154.1C163.4 154.1 164.7 135.2 165.6 135.2C166.2 135.2 167.3 155 167.9 155C168.6 155 169.6 145.1 170.3 145.1C170.8 145.1 171.5 148.7 172 148.7C172.5 148.7 173.4 145.1 173.9 145.1C174.7 145.1 176.1 155 176.9 155C177.7 155 178.8 137 179.6 137C180.4 137 181.5 153.2 182.3 153.2C183.1 153.2 184.2 142.4 185 142.4C185.8 142.4 186.9 154.1 187.7 154.1C188.6 154.1 190.1 137 191 137C191.7 137 192.8 161.4 193.5 161.4C194.1 161.4 195.2 143.3 195.8 143.3C196.2 143.3 196.9 151.4 197.3 151.4C198.1 151.4 199.5 117 200.3 117C200.9 117 201.8 187 202.4 187C203 187 204.1 108.6 204.7 108.6C205.5 108.6 206.7 169 207.5 169C208.1 169 209 134 209.6 134C210.7 134 212.4 156 213.5 156C214.5 156 216 114 217 114C217.5 114 218.4 193.3 218.9 193.3C219.8 193.3 221.2 106 222.1 106C222.7 106 223.7 172 224.3 172C225.2 172 226.6 114 227.5 114C228.3 114 229.7 181.6 230.5 181.6C231.3 181.6 232.4 106 233.2 106C234 106 235.2 185.2 236 185.2C236.6 185.2 237.6 127.1 238.2 127.1C238.9 127.1 240 161.4 240.7 161.4C241.2 161.4 242 143.3 242.5 143.3C243.3 143.3 244.4 148.7 245.2 148.7C245.8 148.7 246.8 146 247.4 146C247.8 146 248.4 150.5 248.8 150.5C249.3 150.5 250.1 139.7 250.6 139.7C251.1 139.7 251.9 157.7 252.4 157.7C252.9 157.7 253.7 146 254.2 146C254.7 146 255.5 149.6 256 149.6C256.8 149.6 257.9 137.9 258.7 137.9C259.4 137.9 260.4 158.6 261.1 158.6C261.6 158.6 262.4 142.4 262.9 142.4C263.4 142.4 264.2 152.3 264.7 152.3C265.3 152.3 266.2 138.8 266.8 138.8C267.2 138.8 267.9 151.4 268.3 151.4C269 151.4 270.1 132.5 270.8 132.5C271.2 132.5 271.9 165.9 272.3 165.9C273.2 165.9 274.6 119.9 275.5 119.9C276.1 119.9 277.1 164 277.7 164C278.3 164 279.2 132.5 279.8 132.5C280.5 132.5 281.5 152.3 282.2 152.3C283 152.3 284.1 142.4 284.9 142.4C285.3 142.4 285.8 147.8 286.2 147.8C286.7 147.8 287.5 138.8 288 138.8C288.5 138.8 289.3 158.6 289.8 158.6C290.4 158.6 291.5 131.6 292.1 131.6C292.6 131.6 293.4 149.6 293.9 149.6C294.4 149.6 295.2 135.2 295.7 135.2C296.3 135.2 297.4 179.8 298 179.8C298.7 179.8 299.9 119 300.6 119C301.2 119 302.3 154.1 302.9 154.1C303.7 154.1 304.8 139.7 305.6 139.7C306.2 139.7 307 155 307.6 155C308.8 155 310.7 133.4 311.9 133.4C312.7 133.4 314.1 178 314.9 178C315.6 178 316.6 124.4 317.3 124.4C317.8 124.4 318.6 176 319.1 176C319.6 176 320.5 113 321 113C321.5 113 322.4 185 322.9 185C323.3 185 323.9 107.3 324.3 107.3C324.7 107.3 325.4 206.8 325.8 206.8C326.6 206.8 328 88.3 328.8 88.3C329.5 88.3 330.5 196 331.2 196C331.7 196 332.4 109 332.9 109C333.5 109 334.4 179.8 335 179.8C335.5 179.8 336.3 109 336.8 109C337.2 109 337.9 180 338.3 180C338.8 180 339.5 111 340 111C340.7 111 341.8 164 342.5 164C343.3 164 344.7 128 345.5 128C346.2 128 347.3 175 348 175C349.1 175 350.8 111.5 351.9 111.5C352.3 111.5 353 221.5 353.4 221.5C354.2 221.5 355.3 82 356.1 82C357.1 82 358.6 198.6 359.6 198.6C360.4 198.6 361.5 70.3 362.3 70.3C362.9 70.3 364 208 364.6 208C365.6 208 367.1 109.6 368.1 109.6C368.9 109.6 370 202.6 370.8 202.6C371.7 202.6 373 111.5 373.9 111.5C374.7 111.5 375.8 175.2 376.6 175.2C377.4 175.2 378.5 117.3 379.3 117.3C379.9 117.3 381 168 381.6 168C382.2 168 383.1 138.8 383.7 138.8C384.2 138.8 385 151.4 385.5 151.4C386.2 151.4 387.2 123 387.9 123C388.2 123 388.6 166.2 388.9 166.2C389.4 166.2 390.2 105.8 390.7 105.8C391.4 105.8 392.5 187.8 393.2 187.8C393.8 187.8 394.6 118.5 395.2 118.5C395.8 118.5 396.9 155 397.5 155C398 155 398.9 144.2 399.4 144.2C399.7 144.2 400.2 157.2 400.5 157.2C401 157.2 401.7 113.5 402.2 113.5C402.9 113.5 404.1 200 404.8 200C405.6 200 406.7 112.7 407.5 112.7C408.2 112.7 409.4 187.8 410.1 187.8C410.9 187.8 412 114.9 412.8 114.9C413.3 114.9 414.2 171.6 414.7 171.6C415.4 171.6 416.4 119 417.1 119C417.6 119 418.4 199.8 418.9 199.8C419.6 199.8 420.7 101.5 421.4 101.5C421.9 101.5 422.7 177 423.2 177C423.7 177 424.5 143.3 425 143.3C425.4 143.3 426 148.7 426.4 148.7C427 148.7 428 138.8 428.6 138.8C428.9 138.8 429.4 147 429.7 147C430.2 147 431 141.5 431.5 141.5C431.8 141.5 432.4 146 432.7 146C433.2 146 434 141.5 434.5 141.5C435 141.5 435.8 149.6 436.3 149.6C436.7 149.6 437.2 147.8 437.6 147.8C438 147.8 438.6 160.5 439 160.5C439.5 160.5 440.4 131.6 440.9 131.6C441.4 131.6 442.1 153.2 442.6 153.2C443 153.2 443.6 146 444 146C444.2 146 444.6 149.6 444.8 149.6C445.1 149.6 445.6 142.4 445.9 142.4C446.3 142.4 446.9 150.5 447.3 150.5C447.7 150.5 448.5 147 448.9 147C449.3 147 449.8 149.6 450.2 149.6C450.8 149.6 451.9 141.5 452.5 141.5C453.2 141.5 454.4 167 455.1 167C455.9 167 457.1 121.7 457.9 121.7C458.7 121.7 460 199.8 460.8 199.8C461.6 199.8 462.7 106.3 463.5 106.3C464 106.3 464.9 175.2 465.4 175.2C466.1 175.2 467.2 133.4 467.9 133.4C468.5 133.4 469.4 153.2 470 153.2C470.4 153.2 471.1 138.8 471.5 138.8C472.3 138.8 473.4 153.2 474.2 153.2C475 153.2 476.1 141.5 476.9 141.5C477.4 141.5 478.2 151.4 478.7 151.4C479.1 151.4 479.6 146 480 146C480.3 146 480.7 151.4 481 151.4C481.6 151.4 482.6 138.8 483.2 138.8C484 138.8 485.1 156.8 485.9 156.8C486.8 156.8 488.1 128.9 489 128.9C489.6 128.9 490.7 168 491.3 168C492 168 493 139.7 493.7 139.7C494.3 139.7 495.2 150.5 495.8 150.5C496.2 150.5 496.9 144.2 497.3 144.2C497.6 144.2 497.9 160 498.2 160C498.8 160 499.7 134.3 500.3 134.3C500.8 134.3 501.6 153.2 502.1 153.2C502.6 153.2 503.4 136.1 503.9 136.1C504.2 136.1 504.5 152.3 504.8 152.3C505.2 152.3 505.9 131.6 506.3 131.6C506.9 131.6 507.8 165.3 508.4 165.3C508.9 165.3 509.7 137.9 510.2 137.9C511.3 137.9 513.1 177 514.2 177C514.9 177 516.1 111.8 516.8 111.8C517.5 111.8 518.5 173.4 519.2 173.4C519.9 173.4 521.1 120.8 521.8 120.8C522.2 120.8 522.8 166.2 523.2 166.2C523.9 166.2 525.1 117.2 525.8 117.2C526.5 117.2 527.6 169.8 528.3 169.8C529 169.8 530.1 128 530.8 128C531.4 128 532.2 160.5 532.8 160.5C533.3 160.5 534.1 141.5 534.6 141.5C535.2 141.5 536.3 164 536.9 164C537.5 164 538.4 134.3 539 134.3C539.4 134.3 540.2 146 540.6 146" fill="none" stroke="#0000ff" stroke-width="0.9"/>
<polyline points="35.3,177 36.5,172 37.8,160 39,156.6 40.2,156 42.9,149.6 44.7,150.5 47.4,151.4 51,153.2 55.5,156 58.2,152.3 61.8,148.7 64,143.3 67.2,147 70,148.7 73.5,151.4 77.1,155 80.7,158.6 83.4,156 85.3,146 87,136.1 88.9,146 90.7,148.7 93.4,150.5 96,156 97.7,153.2 100.4,152.3 103.1,150.5 104.9,152.3 106.7,146 109,160.5 111.6,137 114.8,139.7 117.5,142.4 120.2,143.3 123.8,141.5 126.5,136.1 129.2,141.5 132.8,146 136.4,148.7 139.1,147 141.8,145.1 144.5,147 149,147 152.7,147.8 157.2,146 161,143.5 165.2,138.8 167.9,142.4 171.5,143.3 176,144.2 178.7,140.6 181.4,143.3 184.1,141.5 187.7,141.5 191.3,140.6 194,141.5 195.8,139.2 199.6,141.4 202.4,155 204.2,131 207,130 208.3,120 211,118.5 214,118.3 216.8,119 217.7,121 218.7,143.2 222.4,143.6 224.5,163 227.4,146 230.5,145.5 231.5,140 233.5,126.2 235.5,146 238.7,149 240.5,152.3 243.3,148.2 246,147.3 247.9,148.7 251.5,146 254.2,150.5 257.8,147 262.3,144.2 265.9,147 269.5,146 272.3,142.4 275,137.9 277.7,143.3 281.3,145.1 284,147.8 287.6,143.3 290.3,139.7 293,141.5 295.7,143.3 297.5,152.3 299.9,154.9 301.4,162 302.3,166 303.8,162 305.7,158.3 307.6,158.3 309.1,155.4 310.5,153.5 312.4,149.6 313.9,155.4 315.3,161.2 317.2,163.4 318.5,173.8 320.8,177.2 322.6,187.3 324.2,198.6 325.3,207.6 327.1,191.8 328.7,170.4 330.2,168.2 332,155.8 333.8,149 335.3,147 336.3,144.2 338,164 340,168 342.6,173.5 345.3,164 348,154.5 350.7,155.4 352.5,156.3 355.2,166.2 357,182.4 359.2,194.1 360.6,191.4 362,153.6 363.3,155.4 365.1,182.4 366,175.2 368.2,160.8 370.5,164.4 373.2,161.7 375,171.6 376.8,183.3 378.6,168 380.4,164.4 383.1,170.7 384.9,178.8 386.7,168 388.5,160.8 391.2,145 393.9,159 396.6,166.2 399.4,171.6 402,175.2 403.9,189.6 404.8,202.3 406.6,178.8 409.3,173.4 410.5,165 412,152 413,156 414.7,168 417,169 418.8,198.6 420.6,168 424,156.4 425.6,156.4 428.8,161 429.7,166.4 430.6,161.8 433.8,158.2 436.5,156.4 438.4,155.5 440.9,148.2 442.9,153.6 444.7,155 447,159 449.3,157.3 451.5,155.5 453.4,154.1 455.2,158.2 457,158.2 459.3,159 460.3,173.4 462,160.8 463.2,146 465.2,153.6 467.9,159 469.7,166.2 473.3,170.7 476,167.1 477.8,164.4 480.5,163.5 482.8,165.3 485,170.7 487.7,174.3 489.5,177 491.3,185.1 493.1,179.7 495.8,177 498,175.2 500.3,168.9 502.7,166.2 503.4,161.7 504.8,167.1 507.5,173.4 510.2,177.9 513,181.5 514.7,186.9 517.1,168 518.9,188.7 521,173.4 523.2,170.7 525,157.2 526.8,168 529.2,172.5 531.9,177.9 533.7,182.4 535.5,183.3 536.9,189.6 538.7,181.5 540.5,180.6" fill="none" stroke="#ff0000" stroke-width="1.2" stroke-linejoin="round"/>
<rect x="34" y="9" width="507" height="2" fill="#a6a6a6"/>
<rect x="34" y="9" width="2" height="294" fill="#a6a6a6"/>
<rect x="34" y="302" width="507" height="1" fill="#808080"/>
<rect x="540" y="9" width="1" height="294" fill="#777"/>
<path d="M105.5 302.5V297.7M105.5 10.0V14.8M175.5 302.5V297.7M175.5 10.0V14.8M245.5 302.5V297.7M245.5 10.0V14.8M316.5 302.5V297.7M316.5 10.0V14.8M386.5 302.5V297.7M386.5 10.0V14.8M456.5 302.5V297.7M456.5 10.0V14.8M527.5 302.5V297.7M527.5 10.0V14.8M35.0 273.5H39.8M540.5 273.5H535.7M35.0 243.5H39.8M540.5 243.5H535.7M35.0 214.5H39.8M540.5 214.5H535.7M35.0 185.5H39.8M540.5 185.5H535.7M35.0 156.5H39.8M540.5 156.5H535.7M35.0 126.5H39.8M540.5 126.5H535.7M35.0 97.5H39.8M540.5 97.5H535.7M35.0 68.5H39.8M540.5 68.5H535.7M35.0 38.5H39.8M540.5 38.5H535.7" stroke="#5a5a5a" stroke-width="1" fill="none"/>
<text transform="translate(33.8 308.1) scale(0.79 1)" text-anchor="end" font-size="13" fill="#111" font-family="Liberation Serif, Times New Roman, serif" stroke="#111" stroke-width="0.1">0</text>
<text transform="translate(33.8 278.8) scale(0.79 1)" text-anchor="end" font-size="13" fill="#111" font-family="Liberation Serif, Times New Roman, serif" stroke="#111" stroke-width="0.1">0.1</text>
<text transform="translate(33.8 249.5) scale(0.79 1)" text-anchor="end" font-size="13" fill="#111" font-family="Liberation Serif, Times New Roman, serif" stroke="#111" stroke-width="0.1">0.2</text>
<text transform="translate(33.8 220.2) scale(0.79 1)" text-anchor="end" font-size="13" fill="#111" font-family="Liberation Serif, Times New Roman, serif" stroke="#111" stroke-width="0.1">0.3</text>
<text transform="translate(33.8 190.9) scale(0.79 1)" text-anchor="end" font-size="13" fill="#111" font-family="Liberation Serif, Times New Roman, serif" stroke="#111" stroke-width="0.1">0.4</text>
<text transform="translate(33.8 161.6) scale(0.79 1)" text-anchor="end" font-size="13" fill="#111" font-family="Liberation Serif, Times New Roman, serif" stroke="#111" stroke-width="0.1">0.5</text>
<text transform="translate(33.8 132.3) scale(0.79 1)" text-anchor="end" font-size="13" fill="#111" font-family="Liberation Serif, Times New Roman, serif" stroke="#111" stroke-width="0.1">0.6</text>
<text transform="translate(33.8 103.0) scale(0.79 1)" text-anchor="end" font-size="13" fill="#111" font-family="Liberation Serif, Times New Roman, serif" stroke="#111" stroke-width="0.1">0.7</text>
<text transform="translate(33.8 73.7) scale(0.79 1)" text-anchor="end" font-size="13" fill="#111" font-family="Liberation Serif, Times New Roman, serif" stroke="#111" stroke-width="0.1">0.8</text>
<text transform="translate(33.8 44.4) scale(0.79 1)" text-anchor="end" font-size="13" fill="#111" font-family="Liberation Serif, Times New Roman, serif" stroke="#111" stroke-width="0.1">0.9</text>
<text transform="translate(33.8 15.1) scale(0.79 1)" text-anchor="end" font-size="13" fill="#111" font-family="Liberation Serif, Times New Roman, serif" stroke="#111" stroke-width="0.1">1</text>
<text transform="translate(37.8 315.8) scale(0.80 1)" text-anchor="middle" font-size="12.7" fill="#111" font-family="Liberation Serif, Times New Roman, serif" stroke="#111" stroke-width="0.1">0</text>
<text transform="translate(108.1 315.8) scale(0.80 1)" text-anchor="middle" font-size="12.7" fill="#111" font-family="Liberation Serif, Times New Roman, serif" stroke="#111" stroke-width="0.1">200</text>
<text transform="translate(178.3 315.8) scale(0.80 1)" text-anchor="middle" font-size="12.7" fill="#111" font-family="Liberation Serif, Times New Roman, serif" stroke="#111" stroke-width="0.1">400</text>
<text transform="translate(248.6 315.8) scale(0.80 1)" text-anchor="middle" font-size="12.7" fill="#111" font-family="Liberation Serif, Times New Roman, serif" stroke="#111" stroke-width="0.1">600</text>
<text transform="translate(318.8 315.8) scale(0.80 1)" text-anchor="middle" font-size="12.7" fill="#111" font-family="Liberation Serif, Times New Roman, serif" stroke="#111" stroke-width="0.1">800</text>
<text transform="translate(389.1 315.8) scale(0.80 1)" text-anchor="middle" font-size="12.7" fill="#111" font-family="Liberation Serif, Times New Roman, serif" stroke="#111" stroke-width="0.1">1000</text>
<text transform="translate(459.4 315.8) scale(0.80 1)" text-anchor="middle" font-size="12.7" fill="#111" font-family="Liberation Serif, Times New Roman, serif" stroke="#111" stroke-width="0.1">1200</text>
<text transform="translate(529.6 315.8) scale(0.80 1)" text-anchor="middle" font-size="12.7" fill="#111" font-family="Liberation Serif, Times New Roman, serif" stroke="#111" stroke-width="0.1">1400</text>
<text transform="translate(291 327.2) scale(0.82 1)" text-anchor="middle" font-size="12.6" fill="#111" font-family="Liberation Serif, Times New Roman, serif" stroke="#111" stroke-width="0.1"><tspan font-style="italic">t</tspan>/min</text>
<text transform="translate(13.5 155) rotate(-90) scale(0.85 1)" text-anchor="middle" font-size="11" fill="#111" font-family="Liberation Serif, Times New Roman, serif" stroke="#111" stroke-width="0.1">SOCse</text>
<rect x="348" y="17" width="177" height="1" fill="#777"/>
<rect x="348" y="17" width="2" height="42.4" fill="#9a9a9a"/>
<rect x="524" y="17" width="1" height="42.4" fill="#555"/>
<rect x="348" y="58.3" width="177" height="1.1" fill="#555"/>
<line x1="352" y1="25.4" x2="381" y2="25.4" stroke="#000" stroke-width="1.3" stroke-dasharray="6.5 4.5"/>
<line x1="352" y1="38.3" x2="381" y2="38.3" stroke="#0000ff" stroke-width="1.3"/>
<line x1="352" y1="52.2" x2="381" y2="52.2" stroke="#ff0000" stroke-width="1.3"/>
<text transform="translate(385.4 29.8) scale(0.846 1)" font-size="12.5" fill="#111" font-family="Liberation Serif, Times New Roman, serif" stroke="#111" stroke-width="0.1">Without SOC optimization</text>
<text transform="translate(385.4 42.7) scale(0.845 1)" font-size="12.5" fill="#111" font-family="Liberation Serif, Times New Roman, serif" stroke="#111" stroke-width="0.1">Fuzzy optimization method 1</text>
<text transform="translate(385.4 56.4) scale(0.851 1)" font-size="12.5" fill="#111" font-family="Liberation Serif, Times New Roman, serif" stroke="#111" stroke-width="0.1">Fuzzy optimization method 2</text>
</svg></body></html>
